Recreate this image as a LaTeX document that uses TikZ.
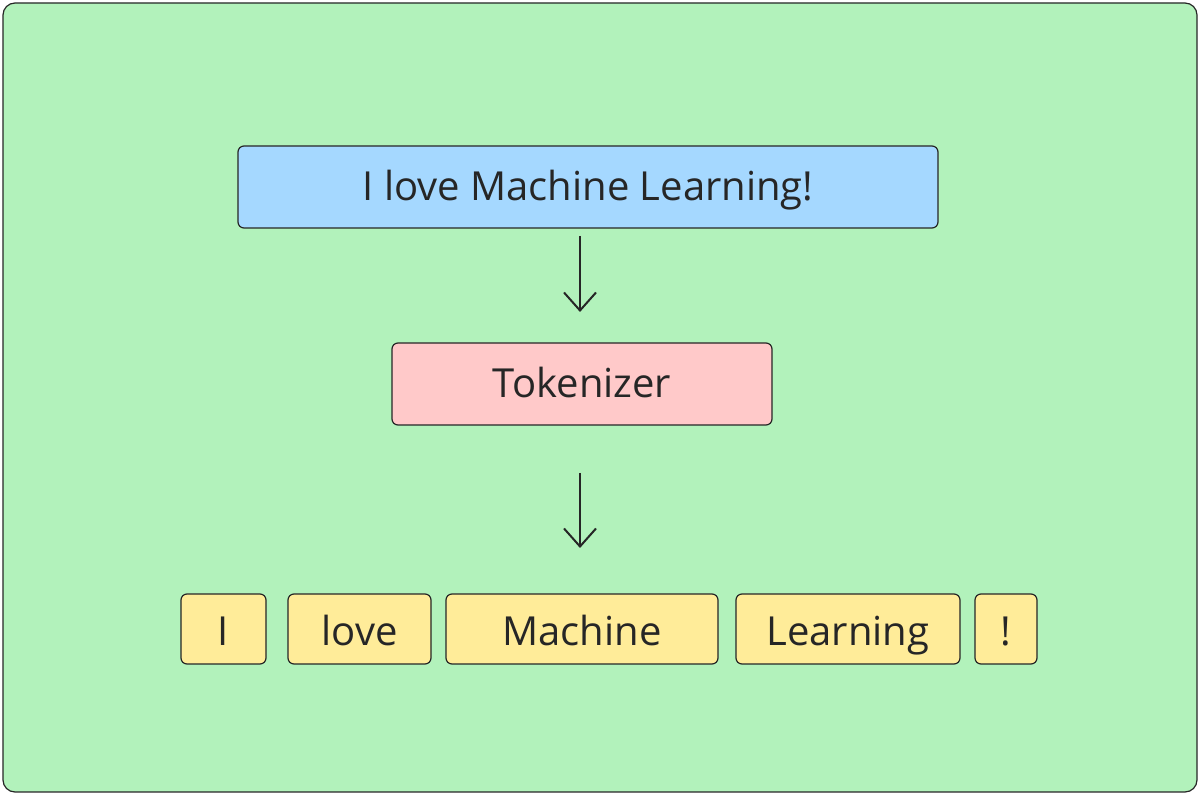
\documentclass[tikz,border=0pt]{standalone}
\usepackage{fontspec}
\usetikzlibrary{arrows.meta}
\setmainfont{Open Sans}
\begin{document}
\begin{tikzpicture}[x=0.5pt,y=-0.5pt,
  box/.style={draw=black!85,line width=0.6pt,rounded corners=3pt},
  lbl/.style={font=\fontsize{20}{22}\selectfont,text=black!85,anchor=base},
  arr/.style={-{Straight Barb[length=9pt,width=16pt]},line width=1pt,draw=black!85}]
\useasboundingbox (0,0) rectangle (1200,795);
\definecolor{bg}{HTML}{B2F2BB}
\definecolor{blu}{HTML}{A5D8FF}
\definecolor{pnk}{HTML}{FFC9C9}
\definecolor{yel}{HTML}{FFEC99}
\draw[box,fill=bg,rounded corners=6pt] (3,3) rectangle (1197,792);
\draw[box,fill=blu] (238,146) rectangle (938,228);
\node[lbl] (in) at (588,201) {I love Machine Learning!};
\draw[box,fill=pnk] (392,343) rectangle (772,425);
\node[lbl] (tok) at (582,398) {Tokenizer};
\coordinate (a1) at (580,236); \coordinate (a2) at (580,312);
\coordinate (b1) at (580,473); \coordinate (b2) at (580,548);
\draw[arr] (a1) -- (a2);
\draw[arr] (b1) -- (b2);
\foreach \l/\r/\t/\n in {181/266/I/t1, 288/431/love/t2, 446/718/Machine/t3, 736/960/Learning/t4, 975/1037/!/t5}{
  \draw[box,fill=yel] (\l,594) rectangle (\r,664);
  \node[lbl] (\n) at ({(\l+\r)/2},646) {\t};
}
\end{tikzpicture}
\end{document}
